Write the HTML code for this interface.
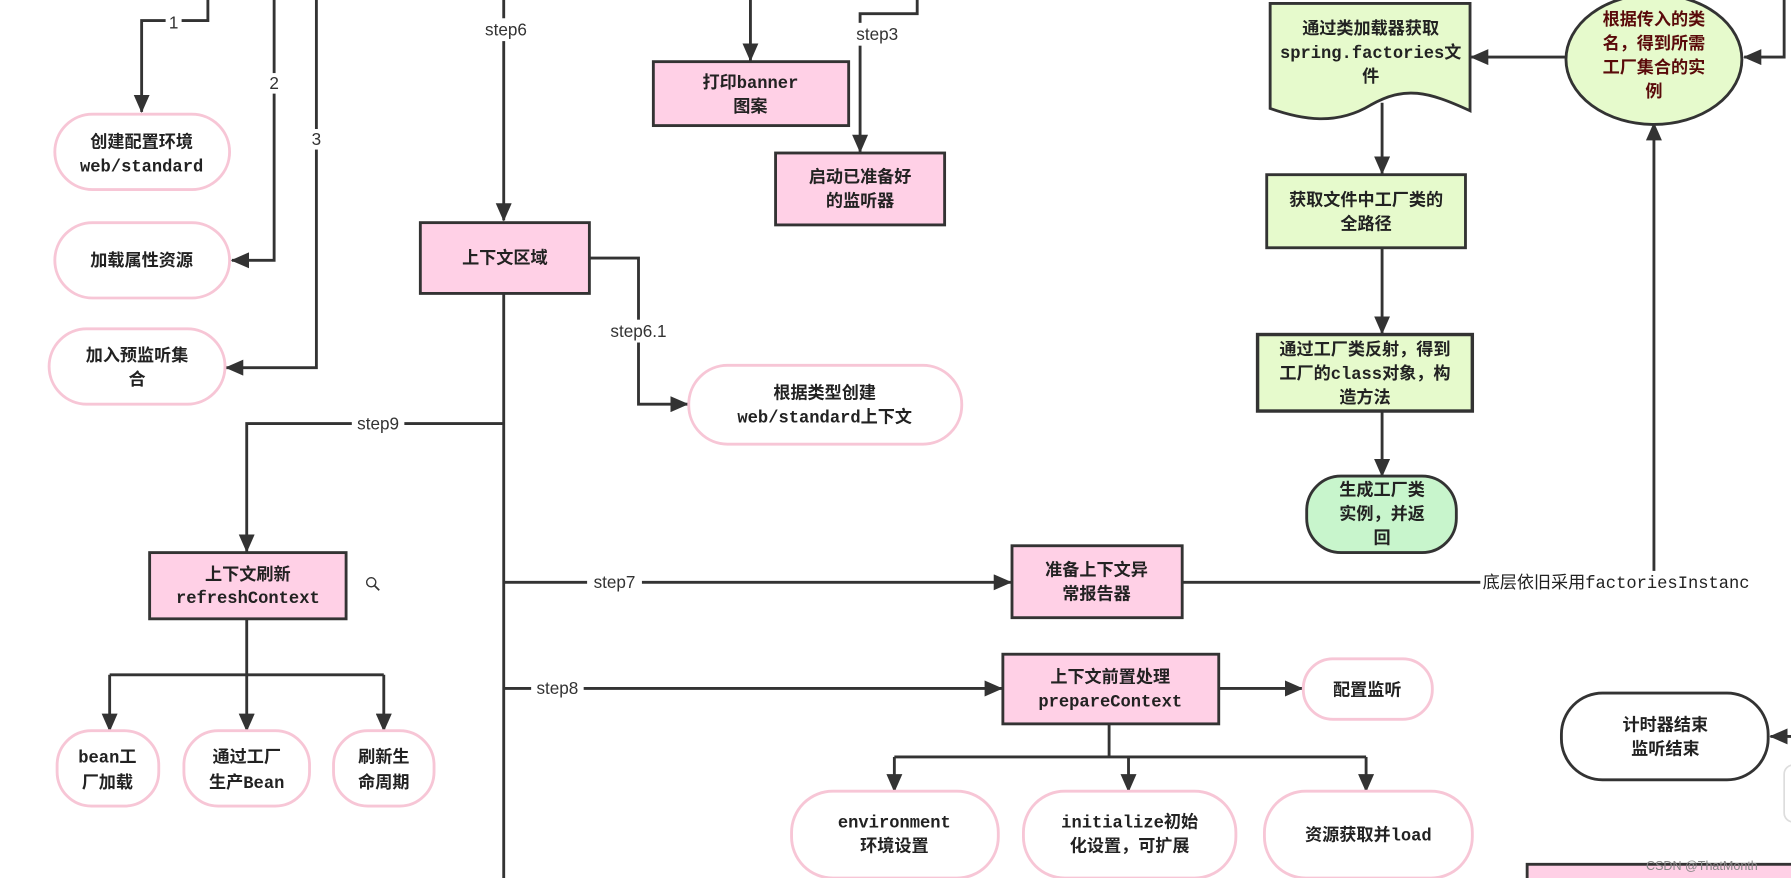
<!DOCTYPE html>
<html><head><meta charset="utf-8"><style>
html,body{margin:0;padding:0;background:#fff;overflow:hidden}
svg text{font-family:"Liberation Mono","Noto Sans CJK SC",monospace;font-size:15px;fill:#222;text-anchor:middle;font-weight:bold}
svg text.l{font-family:"Liberation Sans",sans-serif;font-weight:normal;font-size:15px;fill:#333}
</style></head><body>
<svg width="1791" height="878" viewBox="0 0 1568 769" preserveAspectRatio="none" xmlns="http://www.w3.org/2000/svg">
<defs><marker id="b" markerWidth="16" markerHeight="14" refX="15" refY="7" orient="auto" markerUnits="userSpaceOnUse"><path d="M0,0 L16,7 L0,14 z" fill="#333"/></marker></defs>
<g fill="none" stroke="#333" stroke-width="2.5">
<path d="M182,0V18H124V98" marker-end="url(#b)"/>
<path d="M240,0V228H203" marker-end="url(#b)"/>
<path d="M277,0V322H198" marker-end="url(#b)"/>
<path d="M441,0V193" marker-end="url(#b)"/>
<path d="M516,226H559V354H602" marker-end="url(#b)"/>
<path d="M441,257V769"/>
<path d="M441,371H216V483" marker-end="url(#b)"/>
<path d="M216,542V591"/><path d="M96,591H336"/>
<path d="M96,591V640" marker-end="url(#b)"/><path d="M216,591V640" marker-end="url(#b)"/><path d="M336,591V640" marker-end="url(#b)"/>
<path d="M441,510H885" marker-end="url(#b)"/>
<path d="M1035,510H1568"/>
<path d="M441,603H877" marker-end="url(#b)"/>
<path d="M1067,603H1140" marker-end="url(#b)"/>
<path d="M971,634V663"/><path d="M783,663H1196"/>
<path d="M783,663V693" marker-end="url(#b)"/><path d="M988,663V693" marker-end="url(#b)"/><path d="M1196,663V693" marker-end="url(#b)"/>
<path d="M657,0V53" marker-end="url(#b)"/>
<path d="M803,0V12H753V133" marker-end="url(#b)"/>
<path d="M1371,50H1288" marker-end="url(#b)"/>
<path d="M1562,0V50H1527" marker-end="url(#b)"/>
<path d="M1448,510V108" marker-end="url(#b)"/>
<path d="M1210,90V152" marker-end="url(#b)"/>
<path d="M1210,217V292" marker-end="url(#b)"/>
<path d="M1210,360V417" marker-end="url(#b)"/>
<path d="M1568,645H1550" marker-end="url(#b)"/>
</g>
<g fill="#fff">
<rect x="145" y="12" width="14" height="16"/><rect x="232" y="64" width="16" height="18"/><rect x="269" y="113" width="16" height="18"/>
<rect x="420" y="16" width="46" height="20"/><rect x="745" y="20" width="46" height="20"/><rect x="528" y="280" width="62" height="20"/>
<rect x="308" y="362" width="46" height="18"/><rect x="514" y="501" width="48" height="18"/><rect x="465" y="594" width="46" height="18"/>
<rect x="1296" y="500" width="272" height="20"/>
</g>
<g>
<text class="l" x="152" y="25">1</text><text class="l" x="240" y="78">2</text><text class="l" x="277" y="127">3</text>
<text class="l" x="443" y="31">step6</text><text class="l" x="768" y="35">step3</text><text class="l" x="559" y="295">step6.1</text>
<text class="l" x="331" y="376">step9</text><text class="l" x="538" y="515">step7</text><text class="l" x="488" y="608">step8</text>
<text x="1298" y="515" style="text-anchor:start;font-weight:normal">底层依旧采用factoriesInstanc</text>
</g>
<g fill="#fff" stroke="#f7c6d6" stroke-width="2.5">
<rect x="48" y="100" width="153" height="66" rx="33"/>
<rect x="48" y="195" width="153" height="66" rx="33"/>
<rect x="43" y="288" width="154" height="66" rx="33"/>
<rect x="603" y="320" width="239" height="69" rx="34"/>
<rect x="50" y="640" width="89" height="66" rx="30"/>
<rect x="161" y="640" width="110" height="66" rx="30"/>
<rect x="292" y="640" width="88" height="66" rx="30"/>
<rect x="1141" y="577" width="113" height="53" rx="26"/>
<rect x="693" y="693" width="181" height="76" rx="36"/>
<rect x="896" y="693" width="186" height="76" rx="36"/>
<rect x="1107" y="693" width="182" height="76" rx="36"/>
</g>
<g fill="#ffd0e6" stroke="#333" stroke-width="2.5">
<rect x="368" y="195" width="148" height="62"/>
<rect x="131" y="484" width="172" height="58"/>
<rect x="886" y="478" width="149" height="63"/>
<rect x="878" y="573" width="189" height="61"/>
<rect x="572" y="54" width="171" height="56"/>
<rect x="679" y="134" width="148" height="63"/>
<rect x="1337" y="757" width="240" height="20"/>
</g>
<g fill="#e6facc" stroke="#333" stroke-width="2.5">
<path d="M1112,3H1287V97C1250,80 1230,75 1200,92C1170,110 1140,105 1112,95Z"/>
<ellipse cx="1448" cy="52" rx="77" ry="57"/>
<rect x="1109" y="153" width="174" height="64"/>
<rect x="1101" y="293" width="188" height="67" stroke-width="3"/>
<rect x="1144" y="417" width="131" height="67" rx="30" fill="#c8f5cc"/>
</g>
<rect x="1367" y="607" width="181" height="76" rx="36" fill="#fff" stroke="#333" stroke-width="2.5"/>
<rect x="1562" y="670" width="20" height="50" rx="8" fill="#fff" stroke="#ddd" stroke-width="1.5"/>
<g>
<text x="124" y="129">创建配置环境</text><text x="124" y="150">web/standard</text>
<text x="124" y="233">加载属性资源</text>
<text x="120" y="316">加入预监听集</text><text x="120" y="337">合</text>
<text x="442" y="231">上下文区域</text>
<text x="722" y="349">根据类型创建</text><text x="722" y="370">web/standard上下文</text>
<text x="217" y="508">上下文刷新</text><text x="217" y="528">refreshContext</text>
<text x="94" y="668">bean工</text><text x="94" y="690">厂加载</text>
<text x="216" y="668">通过工厂</text><text x="216" y="690">生产Bean</text>
<text x="336" y="668">刷新生</text><text x="336" y="690">命周期</text>
<text x="960" y="504">准备上下文异</text><text x="960" y="525">常报告器</text>
<text x="972" y="598">上下文前置处理</text><text x="972" y="619">prepareContext</text>
<text x="1197" y="609">配置监听</text>
<text x="783" y="725">environment</text><text x="783" y="746">环境设置</text>
<text x="989" y="725">initialize初始</text><text x="989" y="746">化设置，可扩展</text>
<text x="1198" y="736">资源获取并load</text>
<text x="657" y="77">打印banner</text><text x="657" y="98">图案</text>
<text x="753" y="160">启动已准备好</text><text x="753" y="181">的监听器</text>
<text x="1200" y="30">通过类加载器获取</text><text x="1200" y="51">spring.factories文</text><text x="1200" y="72">件</text>
<text x="1448" y="22" style="fill:#5a0a0a">根据传入的类</text><text x="1448" y="43" style="fill:#5a0a0a">名，得到所需</text><text x="1448" y="64" style="fill:#5a0a0a">工厂集合的实</text><text x="1448" y="85" style="fill:#5a0a0a">例</text>
<text x="1196" y="180">获取文件中工厂类的</text><text x="1196" y="201">全路径</text>
<text x="1195" y="311">通过工厂类反射，得到</text><text x="1195" y="332">工厂的class对象，构</text><text x="1195" y="353">造方法</text>
<text x="1210" y="434">生成工厂类</text><text x="1210" y="455">实例，并返</text><text x="1210" y="476">回</text>
<text x="1458" y="640">计时器结束</text><text x="1458" y="661">监听结束</text>
</g>
<circle cx="325" cy="510" r="4" fill="none" stroke="#333" stroke-width="1.2"/><path d="M328,513L332,517" stroke="#333" stroke-width="1.5"/>
<text class="l" x="1490" y="762" style="font-size:11px;fill:#888">CSDN @ThatMonth</text>
</svg>
</body></html>
